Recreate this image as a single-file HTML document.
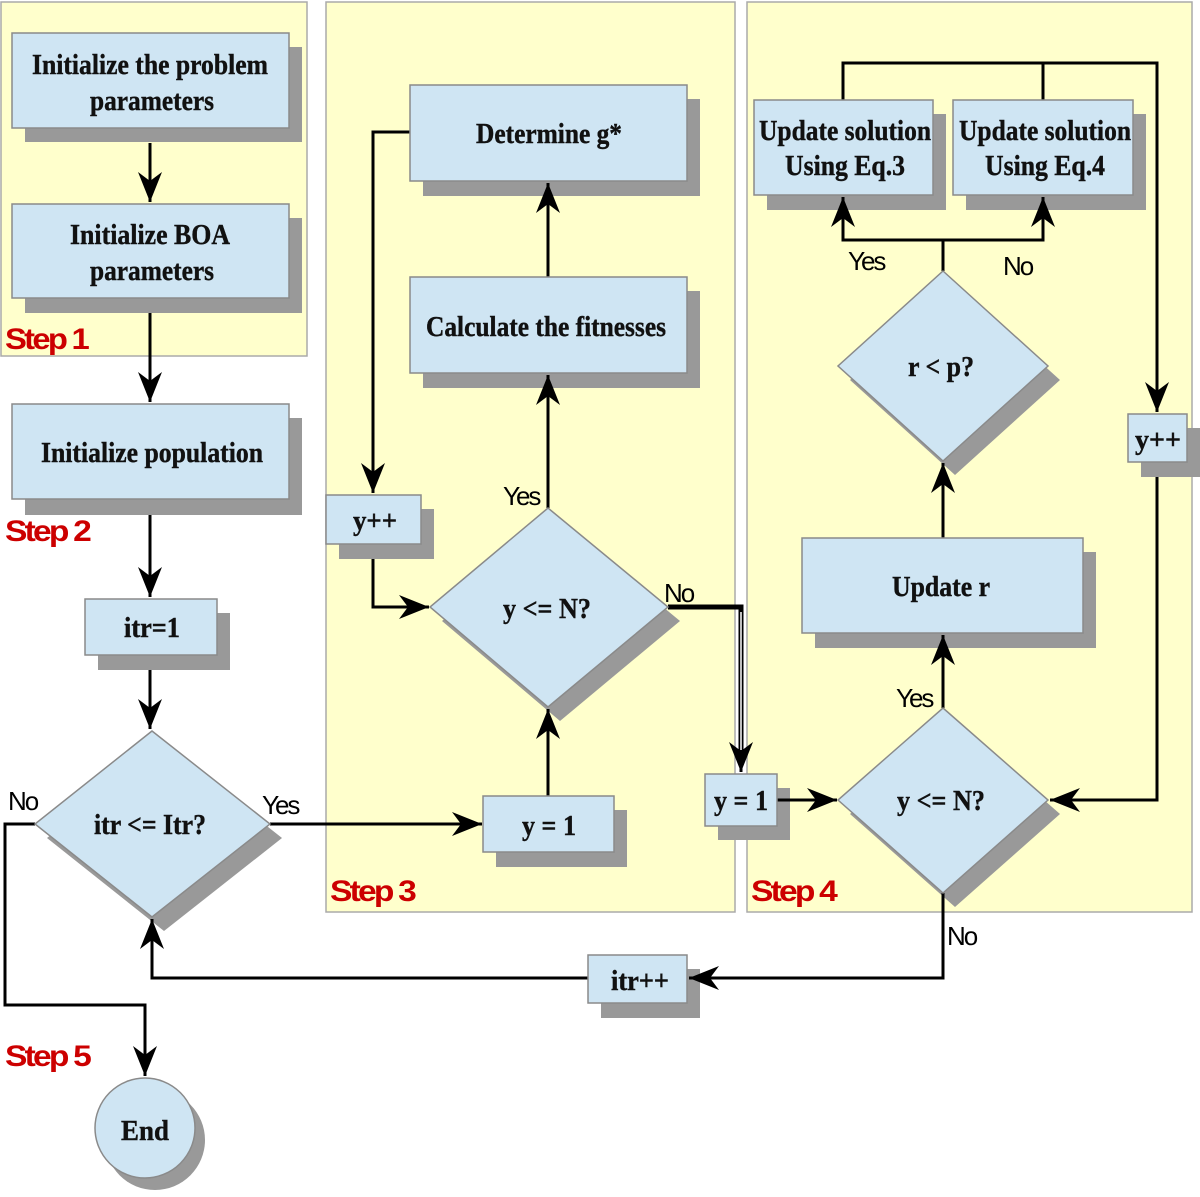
<!DOCTYPE html>
<html><head><meta charset="utf-8"><style>
html,body{margin:0;padding:0;background:#fff}
svg{display:block}
.t{font-family:"Liberation Serif",serif;font-weight:bold;font-size:28px;fill:#111;text-anchor:middle;stroke:#111;stroke-width:0.4}
.l{font-family:"Liberation Sans",sans-serif;font-size:26px;fill:#000;letter-spacing:-2px}
.s{font-family:"Liberation Sans",sans-serif;font-weight:bold;font-size:30px;fill:#cc0000;letter-spacing:-2.5px}
.b{fill:#cfe5f3;stroke:#8a8a8a;stroke-width:1.5}
.sh{fill:#999}
.c{fill:none;stroke:#000;stroke-width:3}
</style></head><body>
<svg width="1200" height="1197" viewBox="0 0 1200 1197" xmlns="http://www.w3.org/2000/svg">
<defs>
<marker id="a" markerUnits="userSpaceOnUse" markerWidth="34" markerHeight="26" refX="30" refY="12" orient="auto">
<path d="M30,12 L0,0 L9,12 L0,24 Z" fill="#000"/>
</marker>
</defs>
<rect x="1" y="2" width="306" height="354" fill="#ffffcc" stroke="#aaa" stroke-width="1.5"/>
<rect x="326" y="2" width="409" height="910" fill="#ffffcc" stroke="#aaa" stroke-width="1.5"/>
<rect x="747" y="2" width="445" height="910" fill="#ffffcc" stroke="#aaa" stroke-width="1.5"/>

<rect class="sh" x="25" y="47" width="277" height="95"/>
<rect class="sh" x="25" y="218" width="277" height="95"/>
<rect class="sh" x="25" y="418" width="277" height="97"/>
<rect class="sh" x="98" y="613" width="132" height="57"/>
<polygon class="sh" points="164,745 282,838 164,931 47,838"/>
<circle class="sh" cx="155" cy="1140" r="50"/>
<rect class="sh" x="601" y="969" width="99" height="49"/>
<rect class="sh" x="496" y="810" width="131" height="57"/>
<polygon class="sh" points="560,522 680,621 560,721 442,621"/>
<rect class="sh" x="339" y="509" width="95" height="50"/>
<rect class="sh" x="423" y="291" width="277" height="97"/>
<rect class="sh" x="423" y="99" width="277" height="97"/>
<rect class="sh" x="718" y="788" width="72" height="52"/>
<polygon class="sh" points="955,722 1060,814 955,907 850,814"/>
<rect class="sh" x="815" y="552" width="281" height="96"/>
<polygon class="sh" points="955,285 1060,380 955,475 850,380"/>
<rect class="sh" x="767" y="114" width="179" height="96"/>
<rect class="sh" x="966" y="114" width="180" height="96"/>
<rect class="sh" x="1141" y="428" width="59" height="49"/>

<path class="c" d="M150,143 V202" marker-end="url(#a)"/>
<path class="c" d="M150,313 V402" marker-end="url(#a)"/>
<path class="c" d="M150,515 V597" marker-end="url(#a)"/>
<path class="c" d="M150,670 V729" marker-end="url(#a)"/>
<path class="c" d="M270,824 H482" marker-end="url(#a)"/>
<path class="c" d="M548,796 V709" marker-end="url(#a)"/>
<path class="c" d="M548,508 V375" marker-end="url(#a)"/>
<path class="c" d="M548,277 V183" marker-end="url(#a)"/>
<path class="c" d="M410,132 H373 V493" marker-end="url(#a)"/>
<path class="c" d="M373,559 V607 H429" marker-end="url(#a)"/>
<path d="M668,607 H741 V755" stroke="#000" stroke-width="5" fill="none"/>
<path d="M741,612 V755" stroke="#fff" stroke-width="1.5" fill="none"/>
<path class="c" d="M741,750 V772" marker-end="url(#a)"/>
<path class="c" d="M777,800 H837" marker-end="url(#a)"/>
<path class="c" d="M943,708 V635" marker-end="url(#a)"/>
<path class="c" d="M943,538 V463" marker-end="url(#a)"/>
<path class="c" d="M943,271 V240"/>
<path class="c" d="M943,240 H843 V197" marker-end="url(#a)"/>
<path class="c" d="M943,240 H1043 V197" marker-end="url(#a)"/>
<path class="c" d="M843,100 V63 H1157 V412" marker-end="url(#a)"/>
<path class="c" d="M1043,63 V100"/>
<path class="c" d="M1157,477 V800 H1050" marker-end="url(#a)"/>
<path class="c" d="M943,893 V978 H689" marker-end="url(#a)"/>
<path class="c" d="M588,978 H152 V919" marker-end="url(#a)"/>
<path class="c" d="M35,824 H5 V1005 H145 V1076" marker-end="url(#a)"/>

<rect class="b" x="12" y="33" width="277" height="95"/>
<rect class="b" x="12" y="204" width="277" height="94"/>
<rect class="b" x="12" y="404" width="277" height="95"/>
<rect class="b" x="85" y="599" width="132" height="56"/>
<polygon class="b" points="152,731 270,824 152,917 35,824"/>
<circle class="b" cx="145" cy="1128" r="50"/>
<rect class="b" x="588" y="955" width="99" height="48"/>
<rect class="b" x="483" y="796" width="131" height="56"/>
<polygon class="b" points="548,508 668,607 548,707 430,607"/>
<rect class="b" x="326" y="495" width="95" height="49"/>
<rect class="b" x="410" y="277" width="277" height="96"/>
<rect class="b" x="410" y="85" width="277" height="96"/>
<rect class="b" x="705" y="774" width="72" height="52"/>
<polygon class="b" points="943,708 1048,800 943,893 838,800"/>
<rect class="b" x="802" y="538" width="281" height="95"/>
<polygon class="b" points="943,271 1048,366 943,461 838,366"/>
<rect class="b" x="754" y="100" width="179" height="95"/>
<rect class="b" x="953" y="100" width="180" height="95"/>
<rect class="b" x="1128" y="414" width="59" height="48"/>

<text class="t" x="150" y="74" textLength="236" lengthAdjust="spacingAndGlyphs">Initialize the problem</text>
<text class="t" x="152" y="110" textLength="124" lengthAdjust="spacingAndGlyphs">parameters</text>
<text class="t" x="150" y="244" textLength="160" lengthAdjust="spacingAndGlyphs">Initialize BOA</text>
<text class="t" x="152" y="280" textLength="124" lengthAdjust="spacingAndGlyphs">parameters</text>
<text class="t" x="152" y="462" textLength="222" lengthAdjust="spacingAndGlyphs">Initialize population</text>
<text class="t" x="152" y="637" textLength="56" lengthAdjust="spacingAndGlyphs">itr=1</text>
<text class="t" x="150" y="834" textLength="112" lengthAdjust="spacingAndGlyphs">itr &lt;= Itr?</text>
<text class="t" x="145" y="1140" textLength="48" lengthAdjust="spacingAndGlyphs">End</text>
<text class="t" x="640" y="990" textLength="58" lengthAdjust="spacingAndGlyphs">itr++</text>
<text class="t" x="549" y="835" textLength="54" lengthAdjust="spacingAndGlyphs">y = 1</text>
<text class="t" x="547" y="618" textLength="88" lengthAdjust="spacingAndGlyphs">y &lt;= N?</text>
<text class="t" x="375" y="530" textLength="44" lengthAdjust="spacingAndGlyphs">y++</text>
<text class="t" x="546" y="336" textLength="240" lengthAdjust="spacingAndGlyphs">Calculate the fitnesses</text>
<text class="t" x="549" y="143" textLength="146" lengthAdjust="spacingAndGlyphs">Determine g*</text>
<text class="t" x="741" y="810" textLength="54" lengthAdjust="spacingAndGlyphs">y = 1</text>
<text class="t" x="941" y="810" textLength="88" lengthAdjust="spacingAndGlyphs">y &lt;= N?</text>
<text class="t" x="941" y="596" textLength="98" lengthAdjust="spacingAndGlyphs">Update r</text>
<text class="t" x="941" y="376" textLength="66" lengthAdjust="spacingAndGlyphs">r &lt; p?</text>
<text class="t" x="845" y="140" textLength="172" lengthAdjust="spacingAndGlyphs">Update solution</text>
<text class="t" x="845" y="175" textLength="120" lengthAdjust="spacingAndGlyphs">Using Eq.3</text>
<text class="t" x="1045" y="140" textLength="172" lengthAdjust="spacingAndGlyphs">Update solution</text>
<text class="t" x="1045" y="175" textLength="120" lengthAdjust="spacingAndGlyphs">Using Eq.4</text>
<text class="t" x="1158" y="449" textLength="46" lengthAdjust="spacingAndGlyphs">y++</text>

<text class="l" x="8" y="810">No</text>
<text class="l" x="262" y="814">Yes</text>
<text class="l" x="503" y="505">Yes</text>
<text class="l" x="664" y="602">No</text>
<text class="l" x="848" y="270">Yes</text>
<text class="l" x="1003" y="275">No</text>
<text class="l" x="896" y="707">Yes</text>
<text class="l" x="947" y="945">No</text>

<text class="s" x="5" y="349" textLength="82" lengthAdjust="spacingAndGlyphs">Step 1</text>
<text class="s" x="5" y="541" textLength="84" lengthAdjust="spacingAndGlyphs">Step 2</text>
<text class="s" x="330" y="901" textLength="84" lengthAdjust="spacingAndGlyphs">Step 3</text>
<text class="s" x="751" y="901" textLength="84" lengthAdjust="spacingAndGlyphs">Step 4</text>
<text class="s" x="5" y="1066" textLength="84" lengthAdjust="spacingAndGlyphs">Step 5</text>
</svg>
</body></html>
